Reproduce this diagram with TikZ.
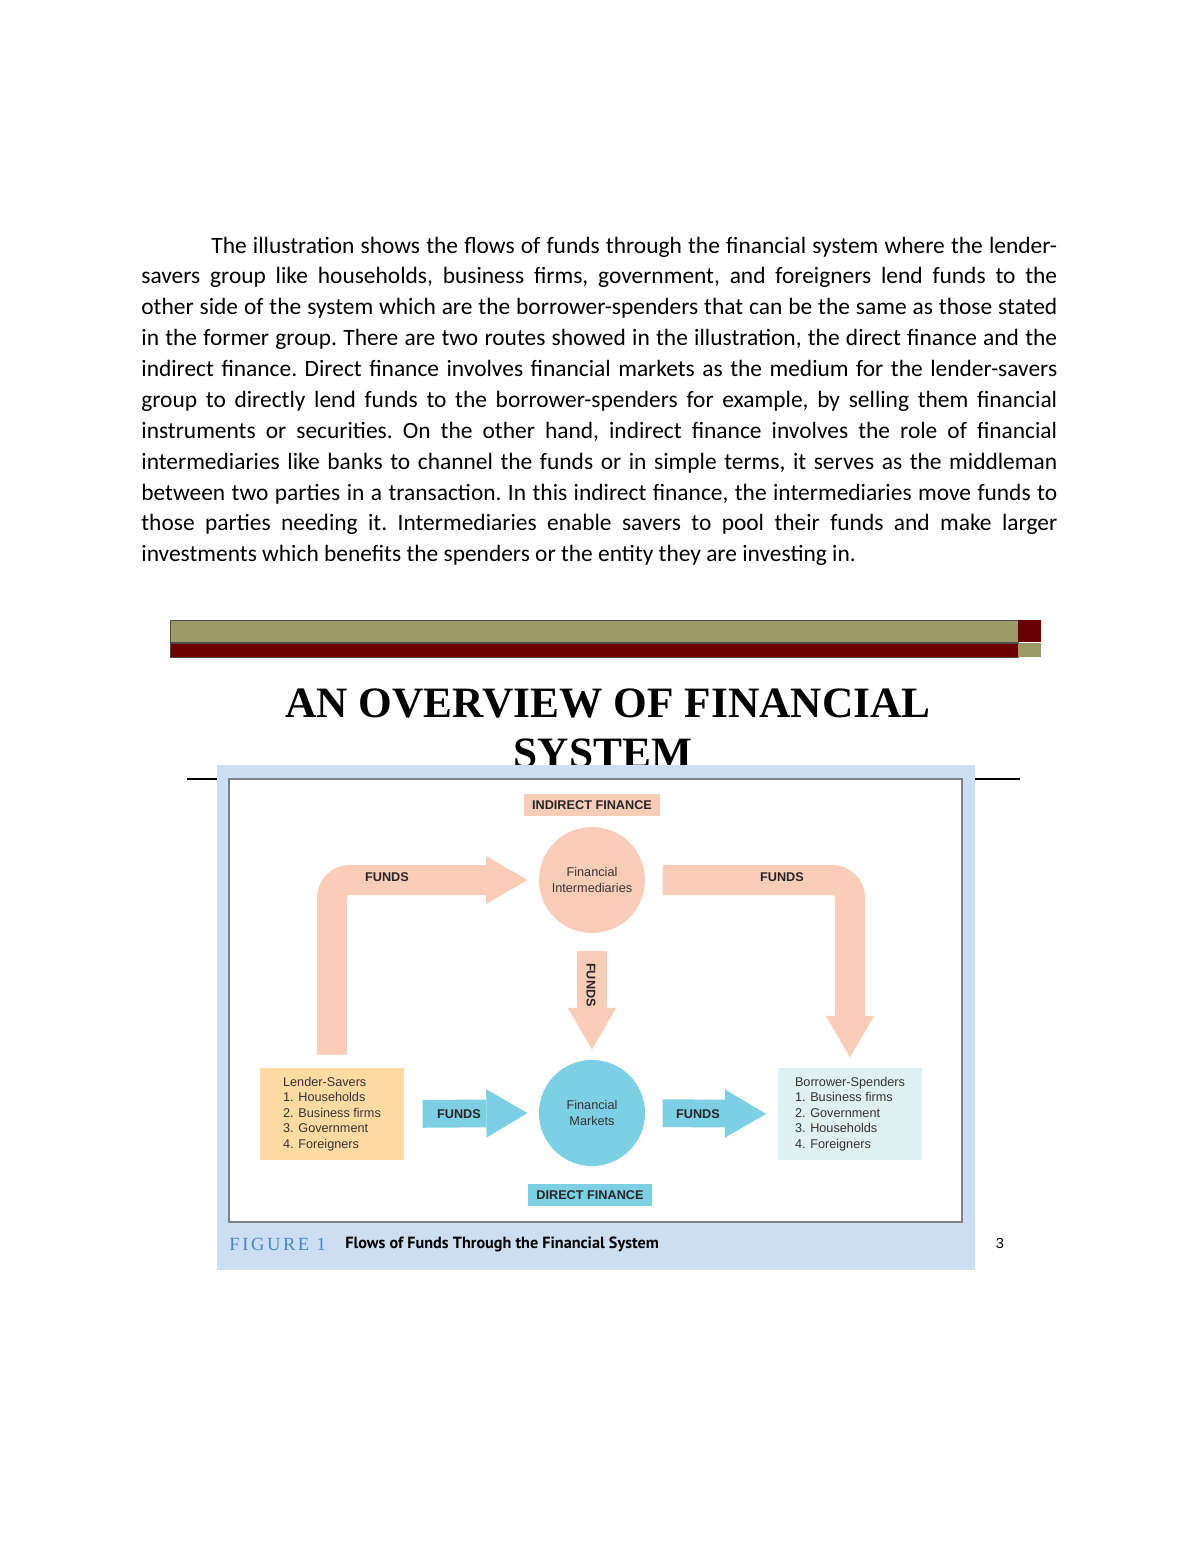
\documentclass[tikz,border=0pt]{standalone}
\usepackage{fontspec}
\setmainfont{Carlito}
\newfontfamily\arialfont{Liberation Sans}
\newfontfamily\timesfont{Liberation Serif}
\newfontfamily\captfont{PT Sans}
\newfontfamily\figfont[LetterSpace=14]{Liberation Serif}
\usepackage{graphicx}
\usepackage{xcolor}
\usetikzlibrary{arrows.meta,positioning,calc}

\definecolor{olivebar}{HTML}{9C9B68}
\definecolor{maroonbar}{HTML}{6B0000}
\definecolor{figblue}{HTML}{CCDEF2}
\definecolor{peach}{HTML}{FACDB9}
\definecolor{skyblue}{HTML}{7DCFE4}
\definecolor{lendfill}{HTML}{FDDBA2}
\definecolor{borfill}{HTML}{DFF1F1}
\definecolor{figtitle}{HTML}{4A86C6}

\begin{document}
\begin{tikzpicture}[x=0.018cm,y=-0.018cm,every node/.style={inner sep=0pt},
  lbl/.style={font=\arialfont\bfseries\fontsize{6.5}{7.5}\selectfont,text=black!85},
  circ/.style={circle,fill=#1,minimum size=1.91cm,align=center,
    font=\arialfont\fontsize{6.5}{8.2}\selectfont,text=black!80},
  listbox/.style={fill=#1,minimum width=2.61cm,minimum height=1.66cm,align=left,
    font=\arialfont\fontsize{6.5}{7.9}\selectfont,text=black!80},
  tagbox/.style={fill=#1,minimum height=0.41cm,
    font=\arialfont\bfseries\fontsize{6.5}{7.5}\selectfont,text=black!85},
  fatarrow/.style={draw=#1,line width=0.54cm,rounded corners=0.32cm,
    -{Triangle[width=0.87cm,length=0.75cm,line width=0pt]}},
  flatarrow/.style={draw=skyblue,line width=0.5cm,
    -{Triangle[width=0.87cm,length=0.74cm,line width=0pt]}}]
  \useasboundingbox (0,0) rectangle (1200,1553);
  % text of the page
  \node[anchor=base west,text width=16.49cm,align=justify,
    font=\fontsize{12pt}{15.82pt}\selectfont\frenchspacing] (para) at (141,253)
  {\hspace*{1.26cm}The illustration shows the flows of funds through the financial system where the lender-\linebreak
  savers group like households, business firms, government, and foreigners lend funds to the\linebreak
  other side of the system which are the borrower-spenders that can be the same as those stated\linebreak
  in the former group. There are two routes showed in the illustration, the direct finance and the\linebreak
  indirect finance. Direct finance involves financial markets as the medium for the lender-savers\linebreak
  group to directly lend funds to the borrower-spenders for example, by selling them financial\linebreak
  instruments or securities. On the other hand, indirect finance involves the role of financial\linebreak
  intermediaries like banks to channel the funds or in simple terms, it serves as the middleman\linebreak
  between two parties in a transaction. In this indirect finance, the intermediaries move funds to\linebreak
  those parties needing it. Intermediaries enable savers to pool their funds and make larger\linebreak
  investments which benefits the spenders or the entity they are investing in.};
  % slide banner
  \draw[fill=olivebar,draw=black!70,line width=0.4pt] (170,620) rectangle (1018,642);
  \draw[fill=maroonbar,draw=black!70,line width=0.4pt] (170,643) rectangle (1018,657);
  \fill[maroonbar] (1018,620) rectangle (1041,642);
  \fill[olivebar] (1018,643) rectangle (1041,657);
  % slide title
  \node[anchor=base,font=\timesfont\bfseries\fontsize{22.2}{25}\selectfont] (title1) at (608,717) {AN OVERVIEW OF FINANCIAL};
  \node[anchor=base,font=\timesfont\bfseries\fontsize{22.2}{25}\selectfont] (title2) at (603,767) {SYSTEM};
  \draw[line width=0.7pt] (187,779) -- (1020,779);
  % figure frame
  \fill[figblue] (217,765) rectangle (975,1270);
  \draw[fill=white,draw=black!50,line width=0.9pt] (229,779) rectangle (962,1222);
  % nodes
  \node[tagbox=peach,minimum width=2.45cm] (indir) at (592,805) {INDIRECT FINANCE};
  \node[circ=peach] (inter) at (592,880) {Financial\\Intermediaries};
  \node[circ=skyblue] (mark) at (592,1113) {Financial\\Markets};
  \node[listbox=lendfill] (lend) at (332,1114) {Lender-Savers\\1. Households\\2. Business firms\\3. Government\\4. Foreigners};
  \node[listbox=borfill] (bor) at (850,1114) {Borrower-Spenders\\1. Business firms\\2. Government\\3. Households\\4. Foreigners};
  \node[tagbox=skyblue,minimum width=2.25cm] (dir) at (590,1195) {DIRECT FINANCE};
  % indirect route
  \draw[fatarrow=peach,shorten <=0.234cm,shorten >=0.2cm] (lend.north) |- (inter.west);
  \draw[fatarrow=peach,shorten <=0.31cm,shorten >=0.18cm] (inter.east) -| (bor.north);
  \draw[fatarrow=peach,shorten <=0.32cm,shorten >=0.18cm] (inter.south) -- (mark.north);
  % direct route
  \draw[flatarrow,shorten <=0.32cm,shorten >=0.2cm] (lend.east) -- (mark.west);
  \draw[flatarrow,shorten <=0.31cm,shorten >=0.2cm] (mark.east) -- (bor.west);
  % arrow labels
  \node[lbl] (f1) at (387,877) {FUNDS};
  \node[lbl] (f2) at (782,877) {FUNDS};
  \node[lbl,rotate=-90] (f3) at (591,985) {FUNDS};
  \node[lbl] (f4) at (459,1114) {FUNDS};
  \node[lbl] (f5) at (698,1114) {FUNDS};
  % caption
  \node[anchor=west,font=\figfont\fontsize{9.5}{10}\selectfont,text=figtitle] (fig) at (229,1244) {FIGURE 1};
  \node[anchor=west,font=\captfont\bfseries\fontsize{8.3}{9}\selectfont] (cap) at (345,1244) {Flows of Funds Through the Financial System};
  \node[font=\arialfont\fontsize{7.5}{9}\selectfont] (pnum) at (1000,1243) {3};
\end{tikzpicture}
\end{document}
